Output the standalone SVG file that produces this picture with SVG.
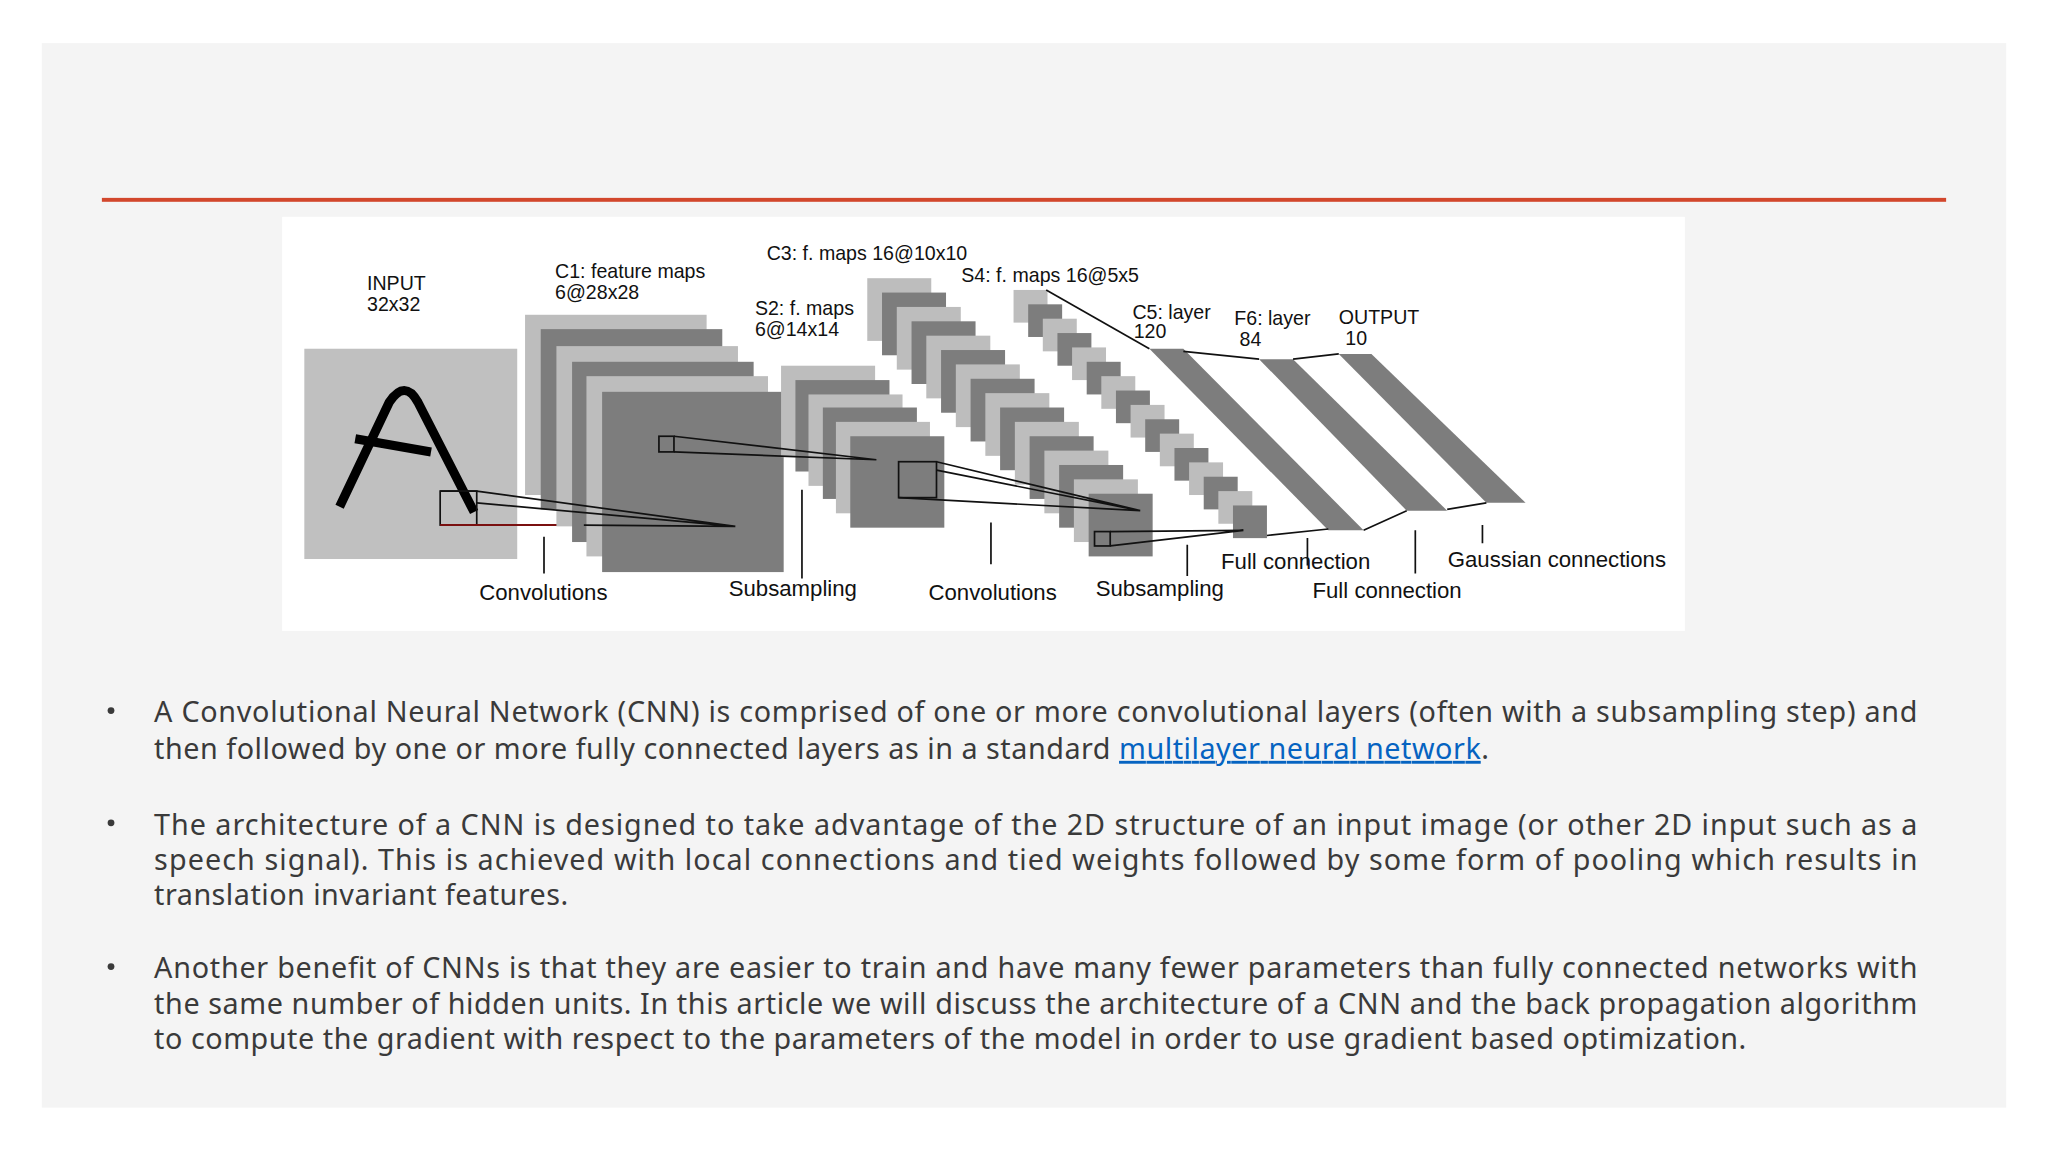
<svg xmlns="http://www.w3.org/2000/svg" width="2048" height="1152" viewBox="0 0 2048 1152">
<defs>
<style>
.l{fill:#bdbdbd}.d{fill:#7d7d7d}
.lb{font-family:"Liberation Sans",Arial,sans-serif;font-size:15px;fill:#111}
.bl{font-family:"Liberation Sans",Arial,sans-serif;font-size:17px;fill:#111}
.tx{font-family:"Noto Sans","Open Sans",sans-serif;font-size:22px;fill:#3a3a3a}
.ln{stroke:#111;stroke-width:1.3;fill:none}
</style>
</defs>
<rect width="2048" height="1152" fill="#fff"/>
<g transform="scale(1.30612)">
<rect x="32" y="33" width="1504" height="815" fill="#f4f4f4"/>
<rect x="78" y="151.5" width="1412" height="3" fill="#d2472c"/>
<rect x="216" y="166" width="1074" height="317" fill="#fff"/>

<g id="input">
<rect x="233" y="267" width="163" height="161" fill="#c0c0c0"/>
<path d="M260,388 L298,308 Q310,290 320,308 L363,392" stroke="#000" stroke-width="7" fill="none"/>
<path d="M272,336 L330,346" stroke="#000" stroke-width="7"/>
<rect x="337" y="376" width="28" height="26" class="ln"/>
<path d="M337,402 H447" stroke="#7a1010" stroke-width="1.5"/>
<text class="lb" x="281" y="222">INPUT</text><text class="lb" x="281" y="238">32x32</text>
</g>

<g id="c1">
<rect class="l" x="402" y="241" width="139" height="138"/>
<rect class="d" x="414" y="252" width="139" height="138"/>
<rect class="l" x="426" y="265" width="139" height="138"/>
<rect class="d" x="438" y="277" width="139" height="138"/>
<rect class="l" x="449" y="288" width="139" height="138"/>
<rect class="d" x="461" y="300" width="139" height="138"/>
<rect x="504.5" y="334" width="11.5" height="12" class="ln"/>
<text class="lb" x="425" y="213">C1: feature maps</text><text class="lb" x="425" y="229">6@28x28</text>
</g>

<g id="s2">
<rect class="l" x="598" y="280" width="72" height="70"/>
<rect class="d" x="609" y="291" width="72" height="70"/>
<rect class="l" x="619" y="302" width="72" height="70"/>
<rect class="d" x="630" y="312" width="72" height="70"/>
<rect class="l" x="640" y="323" width="72" height="70"/>
<rect class="d" x="651" y="334" width="72" height="70"/>
<rect x="688" y="353.5" width="29" height="27.5" class="ln"/>
<text class="lb" x="578" y="241">S2: f. maps</text><text class="lb" x="578" y="257">6@14x14</text>
</g>

<g id="c3">
<rect class="l" x="664" y="213" width="49" height="48"/>
<rect class="d" x="675.3" y="224" width="49" height="48"/>
<rect class="l" x="686.6" y="235" width="49" height="48"/>
<rect class="d" x="697.9" y="246" width="49" height="48"/>
<rect class="l" x="709.2" y="257" width="49" height="48"/>
<rect class="d" x="720.5" y="268" width="49" height="48"/>
<rect class="l" x="731.8" y="279" width="49" height="48"/>
<rect class="d" x="743.1" y="290" width="49" height="48"/>
<rect class="l" x="754.4" y="301" width="49" height="48"/>
<rect class="d" x="765.7" y="312" width="49" height="48"/>
<rect class="l" x="777" y="323" width="49" height="48"/>
<rect class="d" x="788.3" y="334" width="49" height="48"/>
<rect class="l" x="799.6" y="345" width="49" height="48"/>
<rect class="d" x="810.9" y="356" width="49" height="48"/>
<rect class="l" x="822.2" y="367" width="49" height="48"/>
<rect class="d" x="833.5" y="378" width="49" height="48"/>
<rect x="838" y="407" width="12" height="11" class="ln"/>
<text class="lb" x="587" y="199">C3: f. maps 16@10x10</text>
</g>

<g id="s4">
<rect class="l" x="776" y="222" width="26" height="25"/>
<rect class="d" x="787.2" y="233" width="26" height="25"/>
<rect class="l" x="798.4" y="244" width="26" height="25"/>
<rect class="d" x="809.6" y="255" width="26" height="25"/>
<rect class="l" x="820.8" y="266" width="26" height="25"/>
<rect class="d" x="832" y="277" width="26" height="25"/>
<rect class="l" x="843.2" y="288" width="26" height="25"/>
<rect class="d" x="854.4" y="299" width="26" height="25"/>
<rect class="l" x="865.6" y="310" width="26" height="25"/>
<rect class="d" x="876.8" y="321" width="26" height="25"/>
<rect class="l" x="888" y="332" width="26" height="25"/>
<rect class="d" x="899.2" y="343" width="26" height="25"/>
<rect class="l" x="910.4" y="354" width="26" height="25"/>
<rect class="d" x="921.6" y="365" width="26" height="25"/>
<rect class="l" x="932.8" y="376" width="26" height="25"/>
<rect class="d" x="944" y="387" width="26" height="25"/>
<text class="lb" x="736" y="216">S4: f. maps 16@5x5</text>
</g>

<g id="c5">
<polygon class="d" points="880,267 906,267 1044,406 1017,406"/>
<text class="lb" x="867" y="244">C5: layer</text><text class="lb" x="868" y="259">120</text>
</g>
<g id="f6">
<polygon class="d" points="964,275 990,275 1108,391 1077,391"/>
<text class="lb" x="945" y="249">F6: layer</text><text class="lb" x="949" y="265">84</text>
</g>
<g id="output">
<polygon class="d" points="1025,271 1050,271 1168,385 1138,385"/>
<text class="lb" x="1025" y="248">OUTPUT</text><text class="lb" x="1030" y="264">10</text>
</g>

<g id="connectors" class="ln">
<path d="M365,376 L563,403 M337,376 L365,376 M365,385 L563,403 M447,402 L563,403"/>
<path d="M516,334 L671,352 M516,346 L671,352"/>
<path d="M717,353.5 L873,391 M688,381 L873,391 M717,360 L873,391"/>
<path d="M850,407 L952,406 M850,418 L952,406"/>
<path d="M801,222 L880,267"/>
<path d="M906,269 L964,275 M990,275 L1025,271"/>
<path d="M970,410 L1017,405 M1044,406 L1077,391 M1108,390 L1138,385"/>
<path d="M416.5,411 V439 M614,375 V443 M758.7,400 V432 M909,417 V441 M1001,412 V433 M1083.6,406 V439 M1135,402 V416"/>
</g>

<g id="bottom-labels">
<text class="bl" x="416" y="459" text-anchor="middle">Convolutions</text>
<text class="bl" x="607" y="456" text-anchor="middle">Subsampling</text>
<text class="bl" x="760" y="459" text-anchor="middle">Convolutions</text>
<text class="bl" x="888" y="456" text-anchor="middle">Subsampling</text>
<text class="bl" x="992" y="436" text-anchor="middle">Full connection</text>
<text class="bl" x="1062" y="458" text-anchor="middle">Full connection</text>
<text class="bl" x="1192" y="434" text-anchor="middle">Gaussian connections</text>
</g>

<g id="bullets">
<circle cx="85" cy="544" r="2.6" fill="#3a3a3a"/>
<circle cx="85" cy="630" r="2.6" fill="#3a3a3a"/>
<circle cx="85" cy="740" r="2.6" fill="#3a3a3a"/>
<text class="tx" x="118" y="553" textLength="1350" lengthAdjust="spacing">A Convolutional Neural Network (CNN) is comprised of one or more convolutional layers (often with a subsampling step) and</text>
<text class="tx" x="118" y="581" textLength="1022" lengthAdjust="spacing">then followed by one or more fully connected layers as in a standard <tspan fill="#0563c1" text-decoration="underline">multilayer neural network</tspan>.</text>
<text class="tx" x="118" y="639" textLength="1350" lengthAdjust="spacing">The architecture of a CNN is designed to take advantage of the 2D structure of an input image (or other 2D input such as a</text>
<text class="tx" x="118" y="666" textLength="1350" lengthAdjust="spacing">speech signal). This is achieved with local connections and tied weights followed by some form of pooling which results in</text>
<text class="tx" x="118" y="693" textLength="317" lengthAdjust="spacing">translation invariant features.</text>
<text class="tx" x="118" y="749" textLength="1350" lengthAdjust="spacing">Another benefit of CNNs is that they are easier to train and have many fewer parameters than fully connected networks with</text>
<text class="tx" x="118" y="776" textLength="1350" lengthAdjust="spacing">the same number of hidden units. In this article we will discuss the architecture of a CNN and the back propagation algorithm</text>
<text class="tx" x="118" y="803" textLength="1219" lengthAdjust="spacing">to compute the gradient with respect to the parameters of the model in order to use gradient based optimization.</text>
</g>
</g>
</svg>
